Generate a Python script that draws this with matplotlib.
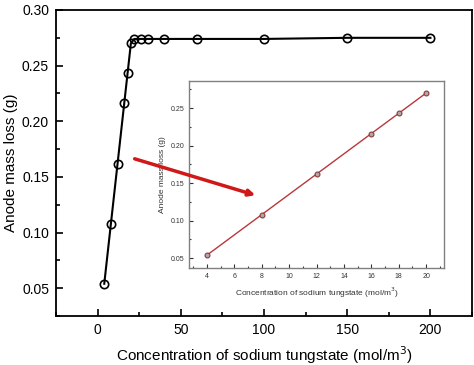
import matplotlib.pyplot as plt
from matplotlib.ticker import MultipleLocator

plt.rcParams['font.family'] = ['Liberation Sans', 'DejaVu Sans']

# main curve: mass loss vs concentration
conc = [4, 8, 12, 16, 18, 20, 22, 26, 30, 40, 60, 100, 150, 200]
loss = [0.054, 0.108, 0.162, 0.216, 0.243, 0.270, 0.274, 0.274, 0.274,
        0.274, 0.274, 0.274, 0.275, 0.275]

# inset: the linear region
conc_in = [4, 8, 12, 16, 18, 20]
loss_in = [0.054, 0.108, 0.162, 0.216, 0.243, 0.270]

fig = plt.figure(figsize=(4.74, 3.65), dpi=100)
ax = fig.add_axes([56 / 474, 1 - 316 / 365, 416 / 474, 306 / 365])

ax.plot(conc, loss, color='black', lw=1.5, marker='o', ms=6,
        mfc='none', mec='black', mew=1.2)
ax.set_xlim(-25, 225)
ax.set_ylim(0.025, 0.30)
ax.xaxis.set_major_locator(MultipleLocator(50))
ax.xaxis.set_minor_locator(MultipleLocator(25))
ax.yaxis.set_major_locator(MultipleLocator(0.05))
ax.yaxis.set_minor_locator(MultipleLocator(0.025))
ax.tick_params(which='both', direction='in', top=False, right=False,
               labelsize=10, width=1.2)
ax.tick_params(which='major', length=5, pad=5)
ax.tick_params(which='minor', length=3)
ax.yaxis.set_major_formatter(plt.FuncFormatter(lambda v, p: f'{v:.2f}'))
for s in ax.spines.values():
    s.set_linewidth(1.3)
ax.set_xlabel('Concentration of sodium tungstate (mol/m$^3$)', fontsize=11)
ax.set_ylabel('Anode mass loss (g)', fontsize=11)
ax.xaxis.set_label_coords(0.5, -0.093)
ax.yaxis.set_label_coords(-0.092, 0.5)

# inset
ins = fig.add_axes([189 / 474, 1 - 268 / 365, 255 / 474, 187 / 365])
ins.plot(conc_in, loss_in, color='#b8383c', lw=1.0, marker='o', ms=3.5,
         mfc='#b0a8a8', mec='#8a3a3a', mew=0.8)
ins.set_xlim(2.7, 21.3)
ins.set_ylim(0.037, 0.286)
ins.xaxis.set_major_locator(MultipleLocator(2))
ins.xaxis.set_minor_locator(MultipleLocator(1))
ins.yaxis.set_major_locator(MultipleLocator(0.05))
ins.yaxis.set_minor_locator(MultipleLocator(0.025))
ins.yaxis.set_major_formatter(plt.FuncFormatter(lambda v, p: f'{v:.2f}'))
ins.tick_params(which='both', direction='in', labelsize=5, width=0.8,
                colors='#333333')
ins.tick_params(which='major', length=3)
ins.tick_params(which='minor', length=1.5)
for s in ins.spines.values():
    s.set_linewidth(1.0)
    s.set_color('#808080')
ins.set_xlabel('Concentration of sodium tungstate (mol/m$^3$)', fontsize=6,
               color='#333333', labelpad=4)
ins.set_ylabel('Anode mass loss (g)', fontsize=6, color='#333333', labelpad=3)

# red arrow pointing into the inset
fig.patches.append(plt.matplotlib.patches.FancyArrowPatch(
    (132 / 474, 1 - 158 / 365), (258 / 474, 1 - 196 / 365),
    transform=fig.transFigure, arrowstyle='-|>', mutation_scale=9,
    color='#d01818', lw=2.5))

fig.savefig('out.png', dpi=100)
